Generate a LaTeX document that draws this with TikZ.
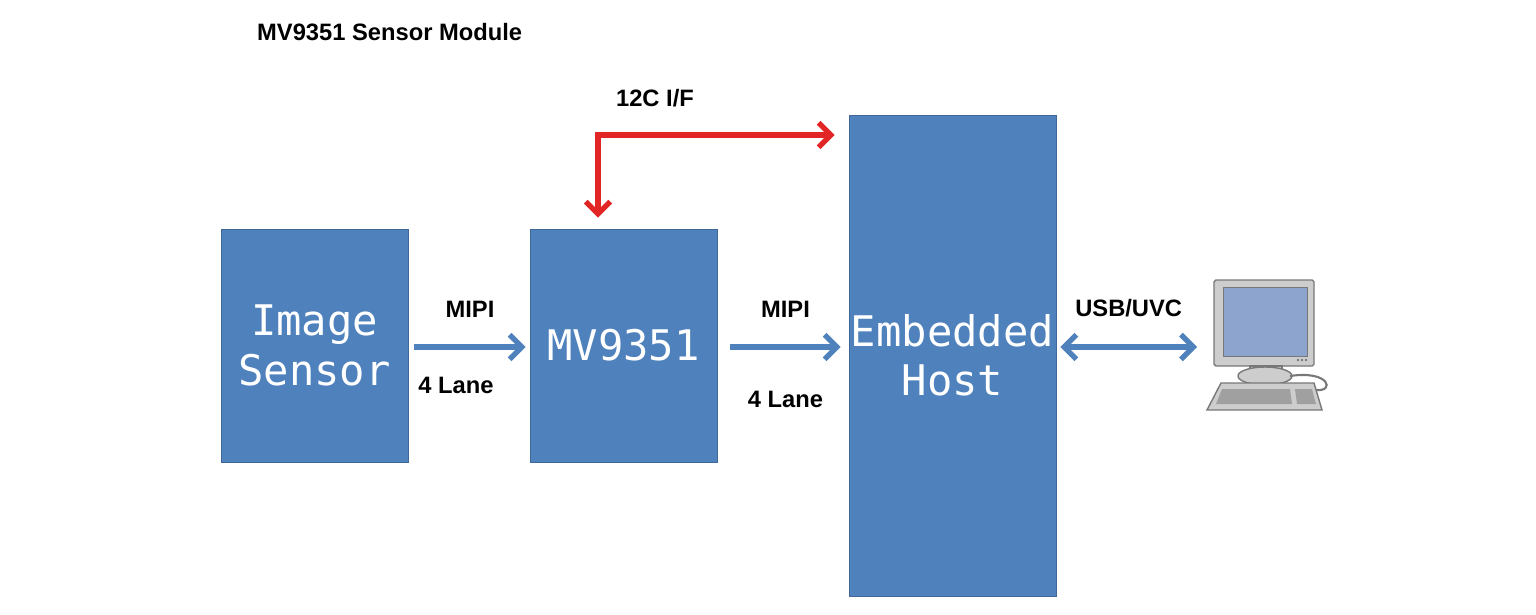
\documentclass[tikz,border=0pt]{standalone}
\usepackage{fontspec}
\setmainfont{Liberation Sans}
\newfontfamily\monofont{DejaVu Sans Mono}
\usetikzlibrary{arrows.meta, positioning, calc}
\definecolor{boxblue}{RGB}{79,129,189}
\definecolor{linkred}{RGB}{226,38,38}
\definecolor{screenblue}{RGB}{141,164,207}
\definecolor{caseg}{RGB}{205,205,205}
\definecolor{edgeg}{RGB}{120,120,120}

\begin{document}
\begin{tikzpicture}[x=0.02cm, y=-0.02cm,
    block/.style={rectangle, draw=boxblue!80!black, fill=boxblue, text=white, font=\monofont\fontsize{24}{28}\selectfont, align=center, inner sep=0pt},
    lbl/.style={font=\bfseries\fontsize{13.5}{16}\selectfont, text=black},
    tip/.style={Straight Barb[length=7pt, width=14pt, line width=3pt]},
    link/.style={-{Straight Barb[length=7pt, width=14pt, line width=3pt]}, line width=3.4pt, boxblue},
    both/.style={{Straight Barb[length=7pt, width=14pt, line width=3pt]}-{Straight Barb[length=7pt, width=14pt, line width=3pt]}, line width=3.4pt},
    part/.style={draw=edgeg, line width=0.8pt, fill=caseg}
]
\useasboundingbox[fill=white] (0,0) rectangle (1536,615);

\node[lbl, anchor=west] (title) at (251,32) {MV9351 Sensor Module};

\node[block, minimum width=187*0.02cm, minimum height=233*0.02cm] (sensor) at (314.5,345.5) {Image\\Sensor};
\node[block, minimum width=187*0.02cm, minimum height=233*0.02cm] (bridge) at (623.5,345.5) {MV9351};
\node[block, minimum width=207*0.02cm, minimum height=481*0.02cm] (host) at (952.5,355.5) {Embedded\\Host};

% computer
\node[part, rounded corners=1pt, minimum width=100*0.02cm, minimum height=86*0.02cm, inner sep=0pt] (pc) at (1264,323) {};
\fill[screenblue, draw=edgeg] (1223,287) rectangle (1307,356);
\foreach \dx in {0,4,8} \fill[edgeg] (1298+\dx,360) circle (0.8pt);
\draw[part] (1250,366) rectangle (1282,373);
\draw[part] (1265,376) ellipse (27 and 9);
\draw[edgeg, line width=1.2pt] (1290,376) .. controls (1330,370) and (1335,392) .. (1316,390);
\draw[part] (1221,383) -- (1314,383) -- (1322,410) -- (1207,410) -- cycle;
\fill[edgeg!70] (1222,389) -- (1290,389) -- (1292,404) -- (1216,404) -- cycle;
\fill[edgeg!70] (1295,389) -- (1312,389) -- (1316,404) -- (1297,404) -- cycle;

\coordinate (axis) at (0,347);
\coordinate (usbend) at (1197,347);
\coordinate (ctrlbend) at (598,135);

\draw[link] ($(sensor.east |- axis)+(6,0)$) -- node[lbl, above=12pt] {MIPI} node[lbl, below=12pt, xshift=-8pt] {4 Lane} ($(bridge.west |- axis)+(-4,0)$);
\draw[link] ($(bridge.east |- axis)+(13,0)$) -- node[lbl, above=12pt] {MIPI} node[lbl, below=20pt] {4 Lane} ($(host.west |- axis)+(-8,0)$);
\draw[both, boxblue] ($(host.east |- axis)+(4,0)$) -- node[lbl, above=12pt] {USB/UVC} (usbend);
\draw[both, linkred] ($(bridge.north -| ctrlbend)+(0,-11)$) -- (ctrlbend) -- ($(host.north west |- ctrlbend)+(-14,0)$);
\node[lbl] (i2c) at (655,98) {12C I/F};

\end{tikzpicture}
\end{document}
